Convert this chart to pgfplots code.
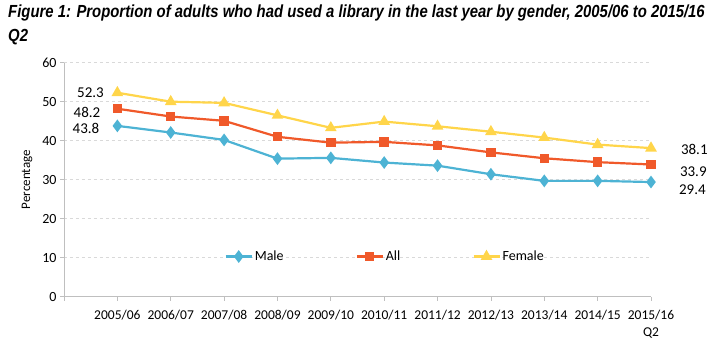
\documentclass[border=0pt]{standalone}
\usepackage{pgfplots}
\pgfplotsset{compat=1.18}
\usepackage{fontspec}
\setmainfont{Carlito}
\newfontfamily\titlefont{Liberation Sans}
\definecolor{cmale}{HTML}{4DB3D4}
\definecolor{call}{HTML}{F0592A}
\definecolor{cfemale}{HTML}{FFD54A}
\definecolor{cgrid}{HTML}{D9D9D9}
\definecolor{caxis}{HTML}{BFBFBF}
\begin{document}
\begin{tikzpicture}[x=1pt,y=1pt]
\useasboundingbox (-64,-54.3) rectangle (653,296.7);
\begin{axis}[
  at={(0,0)}, anchor=south west,
  scale only axis, width=587pt, height=234pt,
  xmin=0, xmax=11, ymin=0, ymax=60,
  xtick={0,...,11},
  xticklabels={,2005/06,2006/07,2007/08,2008/09,2009/10,2010/11,2011/12,2012/13,2013/14,2014/15,{2015/16\\Q2}},
  xticklabel style={align=center, font=\fontsize{13.5}{16.5}\selectfont, yshift=-6pt},
  ytick={0,10,...,60},
  yticklabel style={font=\fontsize{14}{16}\selectfont},
  /pgf/number format/assume math mode=true,
  ymajorgrids, grid style={cgrid, dashed, line width=0.8pt},
  axis x line*=bottom, axis y line*=left,
  axis line style={caxis, line width=0.8pt, -},
  tick style={caxis, line width=0.8pt},
  tick align=outside, major tick length=4pt,
  clip=false,
  legend style={draw=none, fill=none, at={(axis cs:2.95,10.3)}, anchor=west, legend columns=3,
    font=\fontsize{14}{16}\selectfont,
    /tikz/every even column/.append style={column sep=70pt}},
  legend image code/.code={\draw[#1, mark repeat=2, mark phase=2] plot coordinates {(-13pt,0pt) (0pt,0pt) (13pt,0pt)};},
]
\addplot[cmale, line width=2.2pt, mark=diamond*, mark size=4.6pt, mark options={solid}] coordinates {
(1,43.8) (2,42.1) (3,40.2) (4,35.4) (5,35.6) (6,34.4) (7,33.6) (8,31.4) (9,29.7) (10,29.7) (11,29.4)};
\addlegendentry{Male}
\addplot[call, line width=2.2pt, mark=square*, mark size=3.6pt] coordinates {
(1,48.2) (2,46.2) (3,45.1) (4,41.0) (5,39.5) (6,39.7) (7,38.8) (8,37.0) (9,35.5) (10,34.5) (11,33.9)};
\addlegendentry{All}
\addplot[cfemale, line width=2.2pt, mark=triangle*, mark size=4.6pt] coordinates {
(1,52.3) (2,50.0) (3,49.7) (4,46.5) (5,43.3) (6,44.9) (7,43.7) (8,42.3) (9,40.8) (10,39.0) (11,38.1)};
\addlegendentry{Female}
\node[anchor=east, font=\fontsize{15}{17}\selectfont, xshift=-10pt] at (axis cs:1,52.3) {52.3};
\node[anchor=east, font=\fontsize{15}{17}\selectfont, xshift=-13.5pt, yshift=-3.5pt] at (axis cs:1,48.2) {48.2};
\node[anchor=east, font=\fontsize{15}{17}\selectfont, xshift=-14.5pt, yshift=-3pt] at (axis cs:1,43.8) {43.8};
\node[anchor=west, font=\fontsize{15}{17}\selectfont, xshift=26.5pt, yshift=-1pt] at (axis cs:11,38.1) {38.1};
\node[anchor=west, font=\fontsize{15}{17}\selectfont, xshift=25.5pt, yshift=-7.5pt] at (axis cs:11,33.9) {33.9};
\node[anchor=west, font=\fontsize{15}{17}\selectfont, xshift=24.5pt, yshift=-8pt] at (axis cs:11,29.4) {29.4};
\end{axis}
\node[rotate=90, font=\fontsize{13}{15}\selectfont] at (-37,117) {Percentage};
\node[anchor=north west, align=left, inner sep=0pt, font=\titlefont\bfseries\itshape\fontsize{17.5}{24}\selectfont] at (-56,292) {\scalebox{0.85}[1]{Figure 1: Proportion of adults who had used a library in the last year by gender, 2005/06 to 2015/16}\\\scalebox{0.85}[1]{Q2}};
\end{tikzpicture}
\end{document}
